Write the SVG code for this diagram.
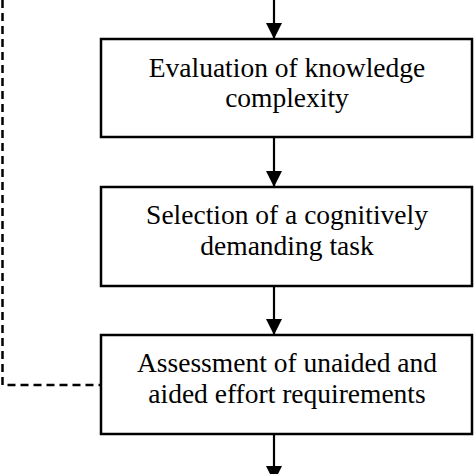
<svg xmlns="http://www.w3.org/2000/svg" width="474" height="474" viewBox="0 0 474 474">
<style>
.box{fill:#fff;stroke:#000;stroke-width:2.5}
.t{font-family:"Liberation Serif","Times New Roman",serif;font-size:27.5px;fill:#000;text-anchor:middle}
.c{stroke:#000;stroke-width:2.2;fill:none}
.d{stroke:#000;stroke-width:2.5;fill:none;stroke-dasharray:8,5}
</style>
<defs>
<marker id="ah" markerWidth="16" markerHeight="16" refX="16" refY="8" orient="auto" markerUnits="userSpaceOnUse">
<path d="M0,0 L16,8 L0,16 Z" fill="#000"/>
</marker>
</defs>
<rect width="474" height="474" fill="#fff"/>
<g id="connectors">
<line class="c" x1="274" y1="0" x2="274" y2="39" marker-end="url(#ah)"/>
<line class="c" x1="274" y1="137" x2="274" y2="187" marker-end="url(#ah)"/>
<line class="c" x1="274" y1="286" x2="274" y2="335" marker-end="url(#ah)"/>
<line class="c" x1="274" y1="434" x2="274" y2="482" marker-end="url(#ah)"/>
<path class="d" d="M2.5,0 L2.5,385 L101,385"/>
</g>
<g id="n1">
<rect class="box" x="101" y="39" width="371" height="98"/>
<text class="t" x="287" y="77">Evaluation of knowledge</text>
<text class="t" x="287" y="107">complexity</text>
</g>
<g id="n2">
<rect class="box" x="101" y="187" width="371" height="99"/>
<text class="t" x="287" y="224">Selection of a cognitively</text>
<text class="t" x="287" y="255">demanding task</text>
</g>
<g id="n3">
<rect class="box" x="101" y="335" width="371" height="99"/>
<text class="t" x="287" y="372">Assessment of unaided and</text>
<text class="t" x="287" y="403">aided effort requirements</text>
</g>
</svg>
